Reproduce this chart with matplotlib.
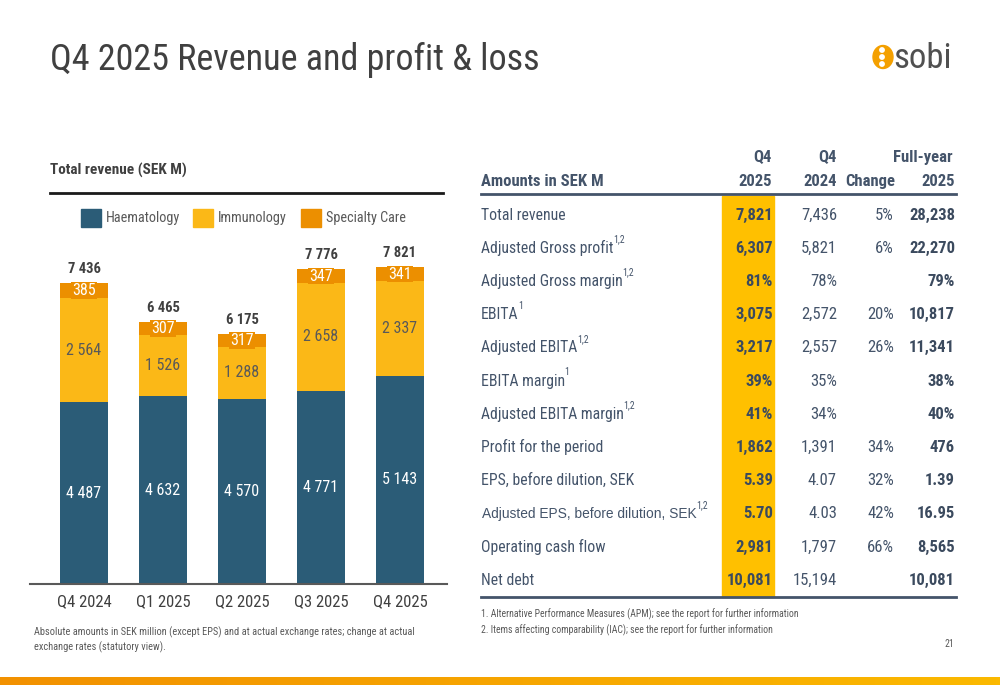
import matplotlib
matplotlib.use("Agg")
import matplotlib.pyplot as plt
from matplotlib import font_manager
from matplotlib.patches import Rectangle, Ellipse, Circle
from matplotlib.colors import LinearSegmentedColormap
import numpy as np

# pick a narrow sans if one is installed
names = {f.name for f in font_manager.fontManager.ttflist}
FONT = next((n for n in ["Liberation Sans Narrow", "Roboto Condensed", "Open Sans Condensed",
                         "Liberation Sans"] if n in names), "DejaVu Sans")
WIDE = "Liberation Sans" if "Liberation Sans" in names else "DejaVu Sans"
plt.rcParams["font.family"] = [FONT, "DejaVu Sans"]

# ---- chart data
quarters = ["Q4 2024", "Q1 2025", "Q2 2025", "Q3 2025", "Q4 2025"]
haematology = [4487, 4632, 4570, 4771, 5143]
immunology = [2564, 1526, 1288, 2658, 2337]
specialty = [385, 307, 317, 347, 341]
totals = [7436, 6465, 6175, 7776, 7821]

# ---- table data
row_labels = [
    "Total revenue",
    "Adjusted Gross profit",
    "Adjusted Gross margin",
    "EBITA",
    "Adjusted EBITA",
    "EBITA margin",
    "Adjusted EBITA margin",
    "Profit for the period",
    "EPS, before dilution, SEK",
    "Adjusted EPS, before dilution, SEK",
    "Operating cash flow",
    "Net debt",
]
row_notes = ["", "1,2", "1,2", "1", "1,2", "1", "1,2", "", "", "1,2", "", ""]
q4_2025 = ["7,821", "6,307", "81%", "3,075", "3,217", "39%", "41%", "1,862", "5.39", "5.70", "2,981", "10,081"]
q4_2024 = ["7,436", "5,821", "78%", "2,572", "2,557", "35%", "34%", "1,391", "4.07", "4.03", "1,797", "15,194"]
change = ["5%", "6%", "", "20%", "26%", "", "", "34%", "32%", "42%", "66%", ""]
full_year = ["28,238", "22,270", "79%", "10,817", "11,341", "38%", "40%", "476", "1.39", "16.95", "8,565", "10,081"]

HAEM = "#2B5C77"
IMMU = "#FBB817"
SPEC = "#EC8F00"
HILITE = "#FFC000"
SLATE = "#44546A"
GREY = "#404040"

fig = plt.figure(figsize=(10, 6.85), dpi=100)
fig.patch.set_facecolor("white")

# full-figure overlay in pixel coordinates for slide text
bg = fig.add_axes([0, 0, 1, 1])
bg.set_xlim(0, 1000)
bg.set_ylim(685, 0)
bg.axis("off")

bg.text(50, 60, "Q4 2025 Revenue and profit & loss", fontsize=26, color=GREY, va="center")

# logo
bg.add_patch(Ellipse((883, 57), 20, 23, color="#F4A000"))
for yy in (50, 57, 64):
    bg.add_patch(Circle((882, yy), 2.2, color="white"))
bg.text(893, 58, "sobi", fontsize=25, color="#505050", va="center")

# chart header
bg.text(50, 170, "Total revenue (SEK M)", fontsize=11, fontweight="bold", color=GREY, va="center")
bg.plot([50, 443], [193, 193], color="#1a1a1a", lw=2)

# legend
for x0, lab, col in [(81, "Haematology", HAEM), (193, "Immunology", IMMU), (301, "Specialty Care", SPEC)]:
    bg.add_patch(Rectangle((x0, 209), 20, 18, color=col))
    bg.text(x0 + 25, 218, lab, fontsize=10.3, color="#595959", va="center")

bg.text(34, 632, "Absolute amounts in SEK million (except EPS) and at actual exchange rates; change at actual",
        fontsize=7.5, color="#595959", va="center")
bg.text(34, 647, "exchange rates (statutory view).", fontsize=7.5, color="#595959", va="center")

# ---- stacked bar chart
ax = fig.add_axes([30 / 1000, 101 / 685, 417 / 1000, 354 / 685])
x = np.arange(len(quarters))
w = 0.6
ax.bar(x, haematology, w, color=HAEM, zorder=2)
ax.bar(x, immunology, w, bottom=haematology, color=IMMU, zorder=2)
bottom3 = np.array(haematology) + np.array(immunology)
ax.bar(x, specialty, w, bottom=bottom3, color=SPEC, zorder=2)

fmt = lambda v: f"{v:,}".replace(",", " ")
for i in range(len(quarters)):
    ax.text(x[i], haematology[i] / 2, fmt(haematology[i]), ha="center", va="center",
            color="white", fontsize=11.5)
    ax.text(x[i], haematology[i] + immunology[i] / 2, fmt(immunology[i]), ha="center", va="center",
            color="#595959", fontsize=11.5)
    ax.text(x[i], bottom3[i] + specialty[i] / 2, fmt(specialty[i]), ha="center", va="center",
            color="white", fontsize=11.5,
            bbox=dict(boxstyle="square,pad=0.05", fc=SPEC, ec="none"))
    ax.annotate(fmt(totals[i]), (x[i], totals[i]), xytext=(0, 5), textcoords="offset points",
                ha="center", va="bottom", fontsize=10.5, fontweight="bold", color=GREY)

ax.set_xlim(-0.684, 4.595)
ax.set_ylim(0, 8741)
ax.set_xticks(x)
ax.set_xticklabels(quarters, fontsize=12, color=GREY)
ax.tick_params(axis="x", length=0, pad=7)
ax.set_yticks([])
for s in ("top", "right", "left"):
    ax.spines[s].set_visible(False)
ax.spines["bottom"].set_color("#595959")
ax.spines["bottom"].set_linewidth(1.5)
ax.patch.set_alpha(0)

# ---- table
row_y = [215 + 33.2 * i for i in range(len(row_labels))]
bg.add_patch(Rectangle((722, 196), 52, 401, color=HILITE, zorder=0))
bg.plot([481, 956], [194, 194], color=SLATE, lw=2)
bg.plot([481, 956], [597, 597], color=SLATE, lw=2)

hdr = dict(fontsize=12, fontweight="bold", color=SLATE, va="center", ha="right")
bg.text(481, 181, "Amounts in SEK M", fontsize=12, fontweight="bold", color=SLATE, va="center")
bg.text(772, 157, "Q4", **hdr)
bg.text(772, 181, "2025", **hdr)
bg.text(837, 157, "Q4", **hdr)
bg.text(837, 181, "2024", **hdr)
bg.text(895, 181, "Change", **hdr)
bg.text(953, 157, "Full-year", **hdr)
bg.text(955, 181, "2025", **hdr)

renderer = fig.canvas.get_renderer()
inv = bg.transData.inverted()
for i, y in enumerate(row_y):
    if i == 9:
        t = bg.text(482, y, row_labels[i], fontsize=9.9, color=SLATE, va="center", family=WIDE)
    else:
        t = bg.text(481, y, row_labels[i], fontsize=11.3, color=SLATE, va="center")
    if row_notes[i]:
        x_end = inv.transform(t.get_window_extent(renderer=renderer).p1)[0]
        bg.text(x_end - 0.5, y - 4, row_notes[i], fontsize=7, color=SLATE, va="bottom")
    bg.text(773, y, q4_2025[i], fontsize=12, fontweight="bold", color="#3B4A5E", va="center", ha="right")
    bg.text(837, y, q4_2024[i], fontsize=12, color=SLATE, va="center", ha="right")
    bg.text(894, y, change[i], fontsize=12, color=SLATE, va="center", ha="right")
    bg.text(955, y, full_year[i], fontsize=12, fontweight="bold", color="#3B4A5E", va="center", ha="right")

bg.text(481, 614, "1. Alternative Performance Measures (APM); see the report for further information",
        fontsize=7, color="#595959", va="center")
bg.text(481, 630, "2. Items affecting comparability (IAC); see the report for further information",
        fontsize=7, color="#595959", va="center")
bg.text(954, 644, "21", fontsize=7, color="#595959", va="center", ha="right")

# bottom gradient bar
grad = np.linspace(0, 1, 256).reshape(1, -1)
cmap = LinearSegmentedColormap.from_list("o", ["#F29100", "#FBB900"])
bg.imshow(grad, extent=[0, 1000, 685, 677], aspect="auto", cmap=cmap, zorder=1)
bg.set_xlim(0, 1000)
bg.set_ylim(685, 0)

fig.savefig("out.png", dpi=100)
